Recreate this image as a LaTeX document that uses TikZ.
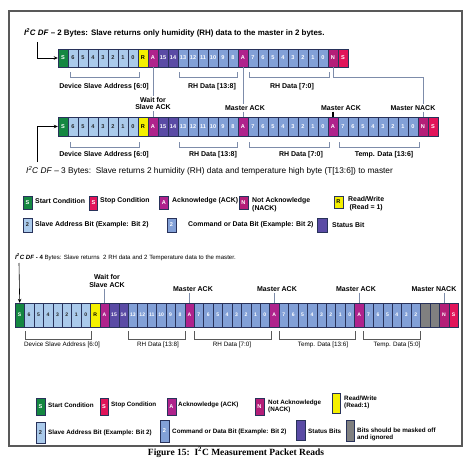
\documentclass[tikz,border=0pt]{standalone}
\usepackage{fontspec}
\setmainfont{Liberation Sans}
\newfontfamily\capfont{Liberation Serif}
\usetikzlibrary{arrows.meta, positioning}

\definecolor{startc}{RGB}{20,135,65}
\definecolor{stopc}{RGB}{225,20,90}
\definecolor{ackc}{RGB}{175,35,140}
\definecolor{nackc}{RGB}{180,30,120}
\definecolor{rwc}{RGB}{245,240,0}
\definecolor{addrc}{RGB}{170,202,235}
\definecolor{datac}{RGB}{130,160,215}
\definecolor{statc}{RGB}{90,75,165}
\definecolor{maskc}{RGB}{128,128,128}
\definecolor{cellline}{RGB}{40,50,90}
\definecolor{linkc}{RGB}{125,140,170}

\begin{document}
\begin{tikzpicture}[
    x=1pt, y=-1pt,
    cell/.style={rectangle, draw=cellline, line width=0.4pt, inner sep=0pt,
                 text=white, font=\fontsize{5.6}{5.6}\selectfont\bfseries},
    startbit/.style={cell, fill=startc},
    stopbit/.style={cell, fill=stopc},
    ackbit/.style={cell, fill=ackc},
    nackbit/.style={cell, fill=nackc},
    rwbit/.style={cell, fill=rwc, text=black},
    addrbit/.style={cell, fill=addrc, text=black!85},
    databit/.style={cell, fill=datac},
    statbit/.style={cell, fill=statc},
    maskbit/.style={cell, fill=maskc},
    link/.style={draw=linkc, line width=0.6pt},
    bracket/.style={draw=linkc, line width=0.6pt},
    arrow/.style={-{Stealth[length=4pt,width=3.5pt]}, line width=0.6pt},
    tag/.style={font=\fontsize{7}{7.8}\selectfont\bfseries, inner sep=1pt, align=center},
    fieldlabel/.style={font=\fontsize{7}{7}\selectfont\bfseries, inner sep=1pt},
    plainlabel/.style={font=\fontsize{6.3}{6.3}\selectfont, inner sep=1pt},
    keytext/.style={anchor=west, inner sep=0pt, align=left, font=\fontsize{6.9}{7.8}\selectfont\bfseries},
    smallkey/.style={anchor=west, inner sep=0pt, align=left, font=\fontsize{6.3}{7.4}\selectfont\bfseries},
    frame/.style={draw=black!65, line width=1.2pt}
]
\useasboundingbox (0,0) rectangle (474,476);

% Frame
\draw[frame] (9,11) rectangle (462,446);

% ==================== PACKET 1: 2 BYTES ====================
\node[anchor=west, inner sep=0pt, font=\fontsize{7.9}{8}\selectfont\bfseries] (title1) at (24,33)
    {\textit{I\textsuperscript{2}C DF} -- 2 Bytes: Slave returns only humidity (RH) data to the master in 2 bytes.};
\coordinate (feed1) at (37,42);

\foreach \kind/\txt [count=\i from 0] in {startbit/S, addrbit/6, addrbit/5, addrbit/4, addrbit/3,
    addrbit/2, addrbit/1, addrbit/0, rwbit/R, ackbit/A, statbit/15, statbit/14, databit/13,
    databit/12, databit/11, databit/10, databit/9, databit/8, ackbit/A, databit/7, databit/6,
    databit/5, databit/4, databit/3, databit/2, databit/1, databit/0, nackbit/N, stopbit/S}
    \node[\kind, minimum width=10pt, minimum height=18pt] (pkt1-\i) at ({63+10*\i}, 58) {\txt};

\draw[bracket] ([xshift=2pt,yshift=-5pt]pkt1-1.south west) -- ++(0pt,-5pt) -| ([xshift=1pt,yshift=-5pt]pkt1-7.south east);
\draw[bracket] ([xshift=1pt,yshift=-5pt]pkt1-12.south west) -- ++(0pt,-5pt) -| ([xshift=-1pt,yshift=-5pt]pkt1-17.south east);
\draw[bracket] ([xshift=1pt,yshift=-5pt]pkt1-19.south west) -- ++(0pt,-5pt) -| ([xshift=1pt,yshift=-5pt]pkt1-26.south east);

\node[fieldlabel] (addr1) at (104,87) {Device Slave Address [6:0]};
\node[fieldlabel] (rhhi1) at (212,87) {RH Data [13:8]};
\node[fieldlabel] (rhlo1) at (292,87) {RH Data [7:0]};

% ==================== PACKET 2: 3 BYTES ====================
\node[tag] (wait2) at (153,103.5) {Wait for\\Slave ACK};
\node[tag] (mack21) at (245,108) {Master ACK};
\node[tag] (mack22) at (341,108) {Master ACK};
\node[tag] (mnack2) at (413,108) {Master NACK};

\foreach \kind/\txt [count=\i from 0] in {startbit/S, addrbit/6, addrbit/5, addrbit/4, addrbit/3,
    addrbit/2, addrbit/1, addrbit/0, rwbit/R, ackbit/A, statbit/15, statbit/14, databit/13,
    databit/12, databit/11, databit/10, databit/9, databit/8, ackbit/A, databit/7, databit/6,
    databit/5, databit/4, databit/3, databit/2, databit/1, databit/0, ackbit/A, databit/7,
    databit/6, databit/5, databit/4, databit/3, databit/2, databit/1, databit/0, nackbit/N, stopbit/S}
    \node[\kind, minimum width=10pt, minimum height=19pt] (pkt2-\i) at ({63+10*\i}, 126.5) {\txt};

\draw[bracket] ([xshift=2pt,yshift=-6pt]pkt2-1.south west) -- ++(0pt,-5pt) -| ([xshift=1pt,yshift=-6pt]pkt2-7.south east);
\draw[bracket] ([xshift=1pt,yshift=-6pt]pkt2-12.south west) -- ++(0pt,-5pt) -| ([xshift=-1pt,yshift=-6pt]pkt2-17.south east);
\draw[bracket] ([xshift=1pt,yshift=-6pt]pkt2-19.south west) -- ++(0pt,-5pt) -| ([xshift=1pt,yshift=-6pt]pkt2-26.south east);
\draw[bracket] ([xshift=1pt,yshift=-6pt]pkt2-28.south west) -- ++(0pt,-5pt) -| ([xshift=1pt,yshift=-6pt]pkt2-35.south east);

\node[fieldlabel] (addr2) at (104,155) {Device Slave Address [6:0]};
\node[fieldlabel] (rhhi2) at (213,155) {RH Data [13:8]};
\node[fieldlabel] (rhlo2) at (301,155) {RH Data [7:0]};
\node[fieldlabel] (temp2) at (384,155) {Temp. Data [13:6]};

\node[anchor=west, inner sep=0pt, font=\fontsize{8.3}{8.5}\selectfont] (title2) at (26,171)
    {\textit{I\textsuperscript{2}C DF} -- 3 Bytes:\ \ Slave returns 2 humidity (RH) data and temperature high byte (T[13:6]) to master};
\coordinate (feed2) at (37,162);

% ==================== ARROWS 1-2 ====================
\draw[arrow] (feed1) |- (pkt1-0.west);
\draw[arrow] (feed2) |- (pkt2-0.west);

\draw[link] (pkt1-9.south) -- (wait2.north -| pkt1-9);
\draw[link] (wait2.south -| pkt2-9) -- (pkt2-9.north);
\draw[link] (pkt1-18.south) -- (mack21.north -| pkt1-18);
\draw[link] (mack21.south -| pkt2-18) -- (pkt2-18.north);
\draw[line width=1.2pt] (mack22.south -| pkt2-27) -- (pkt2-27.north);
\draw[link] (pkt1-27.south) -- ++(0pt,-10pt) -| (mnack2.north -| pkt2-36);
\draw[link] (mnack2.south -| pkt2-36) -- (pkt2-36.north);

% ==================== KEY 1 ====================
\node[startbit, minimum width=9pt, minimum height=13pt] (key1-start) at (27.5,202.5) {S};
\node[keytext] at (35,201) {Start Condition};
\node[stopbit, minimum width=8pt, minimum height=14pt] (key1-stop) at (93.5,203) {S};
\node[keytext] at (100,201) {Stop Condition};
\node[ackbit, minimum width=9pt, minimum height=13pt] (key1-ack) at (164,202.5) {A};
\node[keytext] at (172,201) {Acknowledge (ACK)};
\node[nackbit, minimum width=9pt, minimum height=13pt] (key1-nack) at (243.5,202.5) {N};
\node[keytext] at (252,204.5) {Not Acknowledge\\(NACK)};
\node[rwbit, minimum width=9pt, minimum height=12pt] (key1-rw) at (338.5,202) {R};
\node[keytext, align=center] at (348,204) {Read/Write\\(Read = 1)};

\node[addrbit, minimum width=9pt, minimum height=14pt] (key1-addr) at (27.5,225) {2};
\node[keytext] at (35,225) {Slave Address Bit (Example: Bit 2)};
\node[databit, minimum width=9pt, minimum height=14pt] (key1-data) at (171.5,225) {2};
\node[keytext] at (188,225) {Command or Data Bit (Example: Bit 2)};
\node[statbit, minimum width=10pt, minimum height=14pt] (key1-stat) at (322,225) {};
\node[keytext] at (332,225) {Status Bit};

% ==================== PACKET 3: 4 BYTES ====================
\node[anchor=west, inner sep=0pt, font=\fontsize{6.1}{6.5}\selectfont] (title3) at (15,257)
    {\textbf{\textit{I\textsuperscript{2}C DF} - 4} Bytes: Slave returns\ \ 2 RH data and 2 Temperature data to the master.};
\coordinate (feed3) at (19,263);

\node[tag] (wait3) at (107,281) {Wait for\\Slave ACK};
\node[tag] (mack31) at (193,289) {Master ACK};
\node[tag] (mack32) at (277,289) {Master ACK};
\node[tag] (mack33) at (356,289) {Master ACK};
\node[tag] (mnack3) at (434,289) {Master NACK};

\foreach \kind/\txt [count=\i from 0] in {startbit/S, addrbit/6, addrbit/5, addrbit/4, addrbit/3,
    addrbit/2, addrbit/1, addrbit/0, rwbit/R, ackbit/A, statbit/15, statbit/14, databit/13,
    databit/12, databit/11, databit/10, databit/9, databit/8, ackbit/A, databit/7, databit/6,
    databit/5, databit/4, databit/3, databit/2, databit/1, databit/0, ackbit/A, databit/7,
    databit/6, databit/5, databit/4, databit/3, databit/2, databit/1, databit/0, ackbit/A,
    databit/7, databit/6, databit/5, databit/4, databit/3, databit/2, maskbit/{}, maskbit/{},
    nackbit/N, stopbit/S}
    \node[\kind, minimum width=9.43pt, minimum height=24pt, font=\fontsize{5.1}{5.1}\selectfont\bfseries]
        (pkt3-\i) at ({19.7+9.43*\i}, 315) {\txt};

\draw[arrow] (feed3) -- (pkt3-0.north);
\draw[link] (wait3.south -| pkt3-9) -- (pkt3-9.north);
\draw[link] (mack31.south -| pkt3-18) -- (pkt3-18.north);
\draw[link] (mack32.south -| pkt3-27) -- (pkt3-27.north);
\draw[link] (mack33.south -| pkt3-36) -- (pkt3-36.north);
\draw[link] (mnack3.south -| pkt3-45) -- (pkt3-45.north);

\draw[bracket, draw=black!65] ([xshift=1pt,yshift=-4pt]pkt3-1.south west) -- ++(0pt,-8pt) -| ([xshift=1pt,yshift=-4pt]pkt3-7.south east);
\draw[bracket, draw=black!65] ([yshift=-4pt]pkt3-12.south west) -- ++(0pt,-8pt) -| ([yshift=-4pt]pkt3-17.south east);
\draw[bracket, draw=black!65] ([yshift=-4pt]pkt3-19.south west) -- ++(0pt,-8pt) -| ([xshift=2pt,yshift=-4pt]pkt3-26.south east);
\draw[bracket, draw=black!65] ([yshift=-4pt]pkt3-28.south west) -- ++(0pt,-8pt) -| ([xshift=1pt,yshift=-4pt]pkt3-35.south east);
\draw[bracket, draw=black!65] ([yshift=-4pt]pkt3-37.south west) -- ++(0pt,-8pt) -| ([yshift=-4pt]pkt3-42.south east);

\node[plainlabel] (addr3) at (62,345) {Device Slave Address [6:0]};
\node[plainlabel] (rhhi3) at (158,345) {RH Data [13:8]};
\node[plainlabel] (rhlo3) at (232,345) {RH Data [7:0]};
\node[plainlabel] (temphi3) at (323,345) {Temp. Data [13:6]};
\node[plainlabel] (templo3) at (397,345) {Temp. Data [5:0]};

% ==================== KEY 2 ====================
\node[startbit, minimum width=9pt, minimum height=17pt] (key2-start) at (40.5,406.5) {S};
\node[smallkey] at (48,405) {Start Condition};
\node[stopbit, minimum width=8pt, minimum height=17pt] (key2-stop) at (104,406.5) {S};
\node[smallkey] at (111,405) {Stop Condition};
\node[ackbit, minimum width=9pt, minimum height=17pt] (key2-ack) at (171.5,406.5) {A};
\node[smallkey] at (178,405) {Acknowledge (ACK)};
\node[nackbit, minimum width=9pt, minimum height=17pt] (key2-nack) at (259.5,406.5) {N};
\node[smallkey] at (268,406.5) {Not Acknowledge\\(NACK)};
\node[rwbit, minimum width=8pt, minimum height=20pt] (key2-rw) at (336,403) {};
\node[smallkey] at (344,402.5) {Read/Write\\(Read:1)};

\node[addrbit, minimum width=9pt, minimum height=21pt] (key2-addr) at (40.5,432.5) {2};
\node[smallkey] at (48,433) {Slave Address Bit (Example: Bit 2)};
\node[databit, minimum width=9pt, minimum height=22pt] (key2-data) at (164.5,431) {2};
\node[smallkey] at (172,432) {Command or Data Bit (Example: Bit 2)};
\node[statbit, minimum width=9pt, minimum height=20pt] (key2-stat) at (300.5,430) {};
\node[smallkey] at (308,431) {Status Bits};
\node[maskbit, minimum width=8pt, minimum height=21pt] (key2-mask) at (350,431) {};
\node[smallkey] at (357,434.5) {Bits should be masked off\\and ignored};

% Caption
\node[font=\capfont\fontsize{9.5}{10}\selectfont\bfseries] (caption) at (236,452)
    {Figure 15:\ \ I\textsuperscript{2}C Measurement Packet Reads};

\end{tikzpicture}
\end{document}
